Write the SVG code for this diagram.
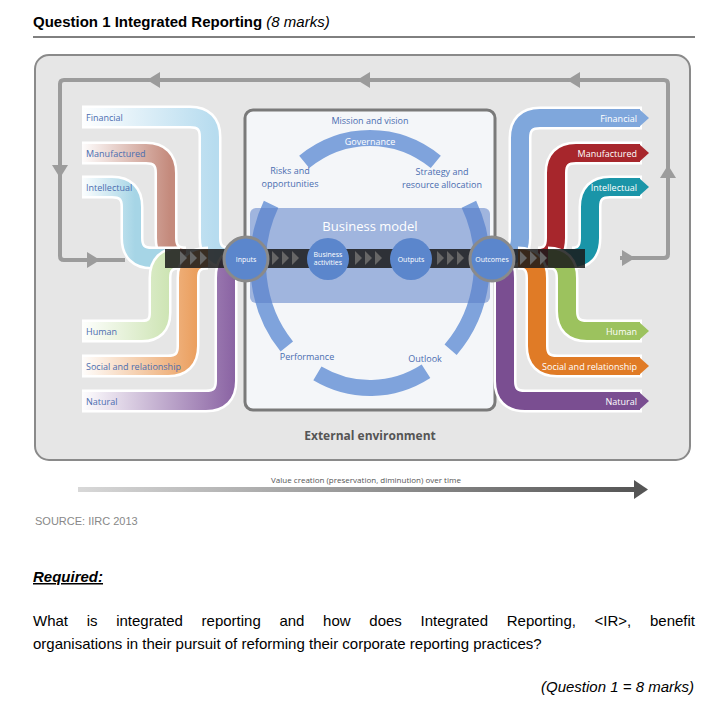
<svg xmlns="http://www.w3.org/2000/svg" width="714" height="717" viewBox="0 0 714 717">
<style>
.t{font-family:"Liberation Sans",Arial,sans-serif}
.d{font-family:"Open Sans","Liberation Sans",sans-serif}
.lbl{font-size:9px;fill:#4a6db0}
.wl{font-size:9px;fill:#fff;text-anchor:end}
.fb{fill:none;stroke:#9c9c9c;stroke-width:4}
.ah{fill:#9c9c9c}
.wb{fill:none;stroke:#fff;stroke-width:23;stroke-linejoin:round}
.fl{fill:none;stroke-width:18}
.cir{fill:#5b86cc}
.ctx{font-size:7px;fill:#fff;text-anchor:middle}
.ring{fill:none;stroke:#7fa3dc;stroke-width:16}
.bl{font-size:9px;fill:#4a6db0;text-anchor:middle}
</style>
<defs>
<linearGradient id="gF" gradientUnits="userSpaceOnUse" x1="80" y1="0" x2="215" y2="0"><stop offset="0" stop-color="#fff"/><stop offset="1" stop-color="#b7dcef"/></linearGradient>
<linearGradient id="gM" gradientUnits="userSpaceOnUse" x1="80" y1="0" x2="170" y2="0"><stop offset="0" stop-color="#fff"/><stop offset="1" stop-color="#c48a7c"/></linearGradient>
<linearGradient id="gI" gradientUnits="userSpaceOnUse" x1="80" y1="0" x2="135" y2="0"><stop offset="0" stop-color="#fff"/><stop offset="1" stop-color="#a6d5e6"/></linearGradient>
<linearGradient id="gH" gradientUnits="userSpaceOnUse" x1="80" y1="0" x2="170" y2="0"><stop offset="0" stop-color="#fff"/><stop offset="1" stop-color="#cde4b3"/></linearGradient>
<linearGradient id="gS" gradientUnits="userSpaceOnUse" x1="80" y1="0" x2="195" y2="0"><stop offset="0" stop-color="#fff"/><stop offset="1" stop-color="#eba060"/></linearGradient>
<linearGradient id="gN" gradientUnits="userSpaceOnUse" x1="80" y1="0" x2="235" y2="0"><stop offset="0" stop-color="#fff"/><stop offset="1" stop-color="#8a63a3"/></linearGradient>
<linearGradient id="gT" x1="0" y1="0" x2="1" y2="0"><stop offset="0" stop-color="#d8d8d8"/><stop offset="1" stop-color="#555"/></linearGradient>
<g id="chev"><path d="M0,-7 L7,0 L0,7 Z" fill="#666"/></g>
</defs>
<rect width="714" height="717" fill="#fff"/>
<text class="t" x="33" y="27" font-size="15" font-weight="bold" fill="#000">Question 1 Integrated Reporting <tspan font-weight="normal" font-style="italic">(8 marks)</tspan></text>
<line x1="33" y1="37" x2="695" y2="37" stroke="#000" stroke-width="1"/>

<rect x="35" y="55" width="655" height="405" rx="14" fill="#e6e6e6" stroke="#8a8a8a" stroke-width="2"/>

<g id="feedback">
<path class="fb" d="M125,260 H64 Q60,260 60,256 V84 Q60,80 64,80 H664 Q668,80 668,84 V254 Q668,258 664,258 H620"/>
<path class="ah" d="M147,80 L160,72 L160,88 Z"/><path class="ah" d="M357,80 L370,72 L370,88 Z"/><path class="ah" d="M567,80 L580,72 L580,88 Z"/>
<path class="ah" d="M52,165 L68,165 L60,178 Z"/><path class="ah" d="M100,260 L87,252 L87,268 Z"/>
<path class="ah" d="M660,178 L676,178 L668,165 Z"/><path class="ah" d="M635,258 L622,250 L622,266 Z"/>
</g>

<g id="business-box">
<rect x="245" y="110" width="250" height="300" rx="8" fill="#f4f6f9" stroke="#7a7a7a" stroke-width="3"/>
<path class="ring" d="M304.2,161.9 A112,125 0 0 1 435.8,161.9"/>
<path class="ring" d="M271.1,204.3 A112,125 0 0 0 286.8,346.6"/>
<path class="ring" d="M468.9,204.3 A112,125 0 0 1 450.6,349.8"/>
<path class="ring" d="M317.4,373.4 A112,125 0 0 0 426,371.3"/>
<rect x="250" y="208" width="240" height="95" rx="6" fill="#5b80c8" fill-opacity="0.55"/>
<text class="d bl" x="370" y="124">Mission and vision</text>
<text class="d" x="370" y="145" font-size="9" fill="#fff" text-anchor="middle">Governance</text>
<text class="d bl" x="290" y="174">Risks and</text>
<text class="d bl" x="290" y="187">opportunities</text>
<text class="d bl" x="442" y="175">Strategy and</text>
<text class="d bl" x="442" y="188">resource allocation</text>
<text class="d" x="370" y="231" font-size="13" fill="#fff" text-anchor="middle">Business model</text>
<text class="d bl" x="307" y="360">Performance</text>
<text class="d bl" x="425" y="362">Outlook</text>
<text class="d" x="370" y="440" font-size="12" fill="#555" font-weight="bold" text-anchor="middle">External environment</text>
</g>

<g id="inputs-flows">
<path class="wb" d="M82,117 H190 Q210,117 210,137 V238 Q210,258 230,258"/>
<path class="fl" stroke="url(#gF)" d="M82,117 H190 Q210,117 210,137 V238 Q210,258 230,258"/>
<path class="wb" d="M82,153 H146 Q166,153 166,173 V238 Q166,258 186,258"/>
<path class="fl" stroke="url(#gM)" d="M82,153 H146 Q166,153 166,173 V238 Q166,258 186,258"/>
<path class="wb" d="M82,187 H112 Q132,187 132,207 V238 Q132,258 152,258 H180"/>
<path class="fl" stroke="url(#gI)" d="M82,187 H112 Q132,187 132,207 V238 Q132,258 152,258 H180"/>
<path class="wb" d="M82,331 H142 Q160,331 160,313 V278 Q160,258 180,258"/>
<path class="fl" stroke="url(#gH)" d="M82,331 H142 Q160,331 160,313 V278 Q160,258 180,258"/>
<path class="wb" d="M82,366 H168 Q188,366 188,346 V278 Q188,258 208,258"/>
<path class="fl" stroke="url(#gS)" d="M82,366 H168 Q188,366 188,346 V278 Q188,258 208,258"/>
<path class="wb" d="M82,401 H206 Q226,401 226,381 V278 Q226,258 240,258"/>
<path class="fl" stroke="url(#gN)" d="M82,401 H206 Q226,401 226,381 V278 Q226,258 240,258"/>
<text class="d lbl" x="86" y="121">Financial</text>
<text class="d lbl" x="86" y="157">Manufactured</text>
<text class="d lbl" x="86" y="191">Intellectual</text>
<text class="d lbl" x="86" y="335">Human</text>
<text class="d lbl" x="86" y="370">Social and relationship</text>
<text class="d lbl" x="86" y="405">Natural</text>
</g>

<g id="outcome-flows">
<path class="wb" d="M500,258 Q520,258 520,238 V138 Q520,118 540,118 H642"/>
<path class="fl" stroke="#7fa7dc" d="M500,258 Q520,258 520,238 V138 Q520,118 540,118 H640"/>
<path class="wb" d="M538,258 Q556,258 556,238 V173 Q556,153 576,153 H642"/>
<path class="fl" stroke="#a7262c" d="M538,258 Q556,258 556,238 V173 Q556,153 576,153 H640"/>
<path class="wb" d="M572,258 Q590,258 590,238 V207 Q590,187 610,187 H642"/>
<path class="fl" stroke="#1a95a8" d="M556,258 H572 Q590,258 590,238 V207 Q590,187 610,187 H640"/>
<path class="wb" d="M548,258 Q567,258 567,278 V311 Q567,331 587,331 H642"/>
<path class="fl" stroke="#9cc25e" d="M548,258 Q567,258 567,278 V311 Q567,331 587,331 H640"/>
<path class="wb" d="M518,258 Q537,258 537,278 V346 Q537,366 557,366 H642"/>
<path class="fl" stroke="#e07b26" d="M518,258 Q537,258 537,278 V346 Q537,366 557,366 H640"/>
<path class="wb" d="M490,258 Q505,258 505,278 V381 Q505,401 525,401 H642"/>
<path class="fl" stroke="#7a4e91" d="M490,258 Q505,258 505,278 V381 Q505,401 525,401 H640"/>
<path d="M639,109 L649,118 L639,127 Z" fill="#7fa7dc"/>
<path d="M639,144 L649,153 L639,162 Z" fill="#a7262c"/>
<path d="M639,178 L649,187 L639,196 Z" fill="#1a95a8"/>
<path d="M639,322 L649,331 L639,340 Z" fill="#9cc25e"/>
<path d="M639,357 L649,366 L639,375 Z" fill="#e07b26"/>
<path d="M639,392 L649,401 L639,410 Z" fill="#7a4e91"/>
<text class="d wl" x="637" y="122">Financial</text>
<text class="d wl" x="637" y="157">Manufactured</text>
<text class="d wl" x="637" y="191">Intellectual</text>
<text class="d wl" x="637" y="335">Human</text>
<text class="d wl" x="637" y="370">Social and relationship</text>
<text class="d wl" x="637" y="405">Natural</text>
</g>

<g id="value-band">
<rect x="165" y="249" width="420" height="19" fill="#1a1a1a" fill-opacity="0.85"/>
<use href="#chev" x="180" y="258"/><use href="#chev" x="190" y="258"/><use href="#chev" x="200" y="258"/>
<use href="#chev" x="272" y="258"/><use href="#chev" x="282" y="258"/><use href="#chev" x="292" y="258"/>
<use href="#chev" x="355" y="258"/><use href="#chev" x="365" y="258"/><use href="#chev" x="375" y="258"/>
<use href="#chev" x="437" y="258"/><use href="#chev" x="447" y="258"/><use href="#chev" x="457" y="258"/>
<use href="#chev" x="520" y="258"/><use href="#chev" x="530" y="258"/><use href="#chev" x="540" y="258"/>
</g>
<g id="inputs"><circle class="cir" cx="246" cy="259" r="22" stroke="#8a8a8a" stroke-width="3"/><text class="d ctx" x="246" y="262">Inputs</text></g>
<g id="activities"><circle class="cir" cx="328" cy="259" r="21"/><text class="d ctx" x="328" y="257">Business</text><text class="d ctx" x="328" y="265">activities</text></g>
<g id="outputs"><circle class="cir" cx="411" cy="259" r="21"/><text class="d ctx" x="411" y="262">Outputs</text></g>
<g id="outcomes"><circle class="cir" cx="492" cy="259" r="22" stroke="#8a8a8a" stroke-width="3"/><text class="d ctx" x="492" y="262">Outcomes</text></g>

<g id="time-axis">
<rect x="78" y="487" width="560" height="5" fill="url(#gT)"/>
<path d="M648,489.5 L634,480 L634,499 Z" fill="#555"/>
<text class="d" x="366" y="483" font-size="8" fill="#555" text-anchor="middle">Value creation (preservation, diminution) over time</text>
</g>

<text class="t" x="35" y="525" font-size="11" fill="#888">SOURCE: IIRC 2013</text>
<text class="t" x="33" y="582" font-size="15" font-weight="bold" font-style="italic" text-decoration="underline">Required:</text>
<text class="t" x="33" y="626" font-size="15" word-spacing="14.5">What is integrated reporting and how does Integrated Reporting, &lt;IR&gt;, benefit</text>
<text class="t" x="33" y="649" font-size="15">organisations in their pursuit of reforming their corporate reporting practices?</text>
<text class="t" x="694" y="692" font-size="15" font-style="italic" text-anchor="end">(Question 1 = 8 marks)</text>
</svg>
